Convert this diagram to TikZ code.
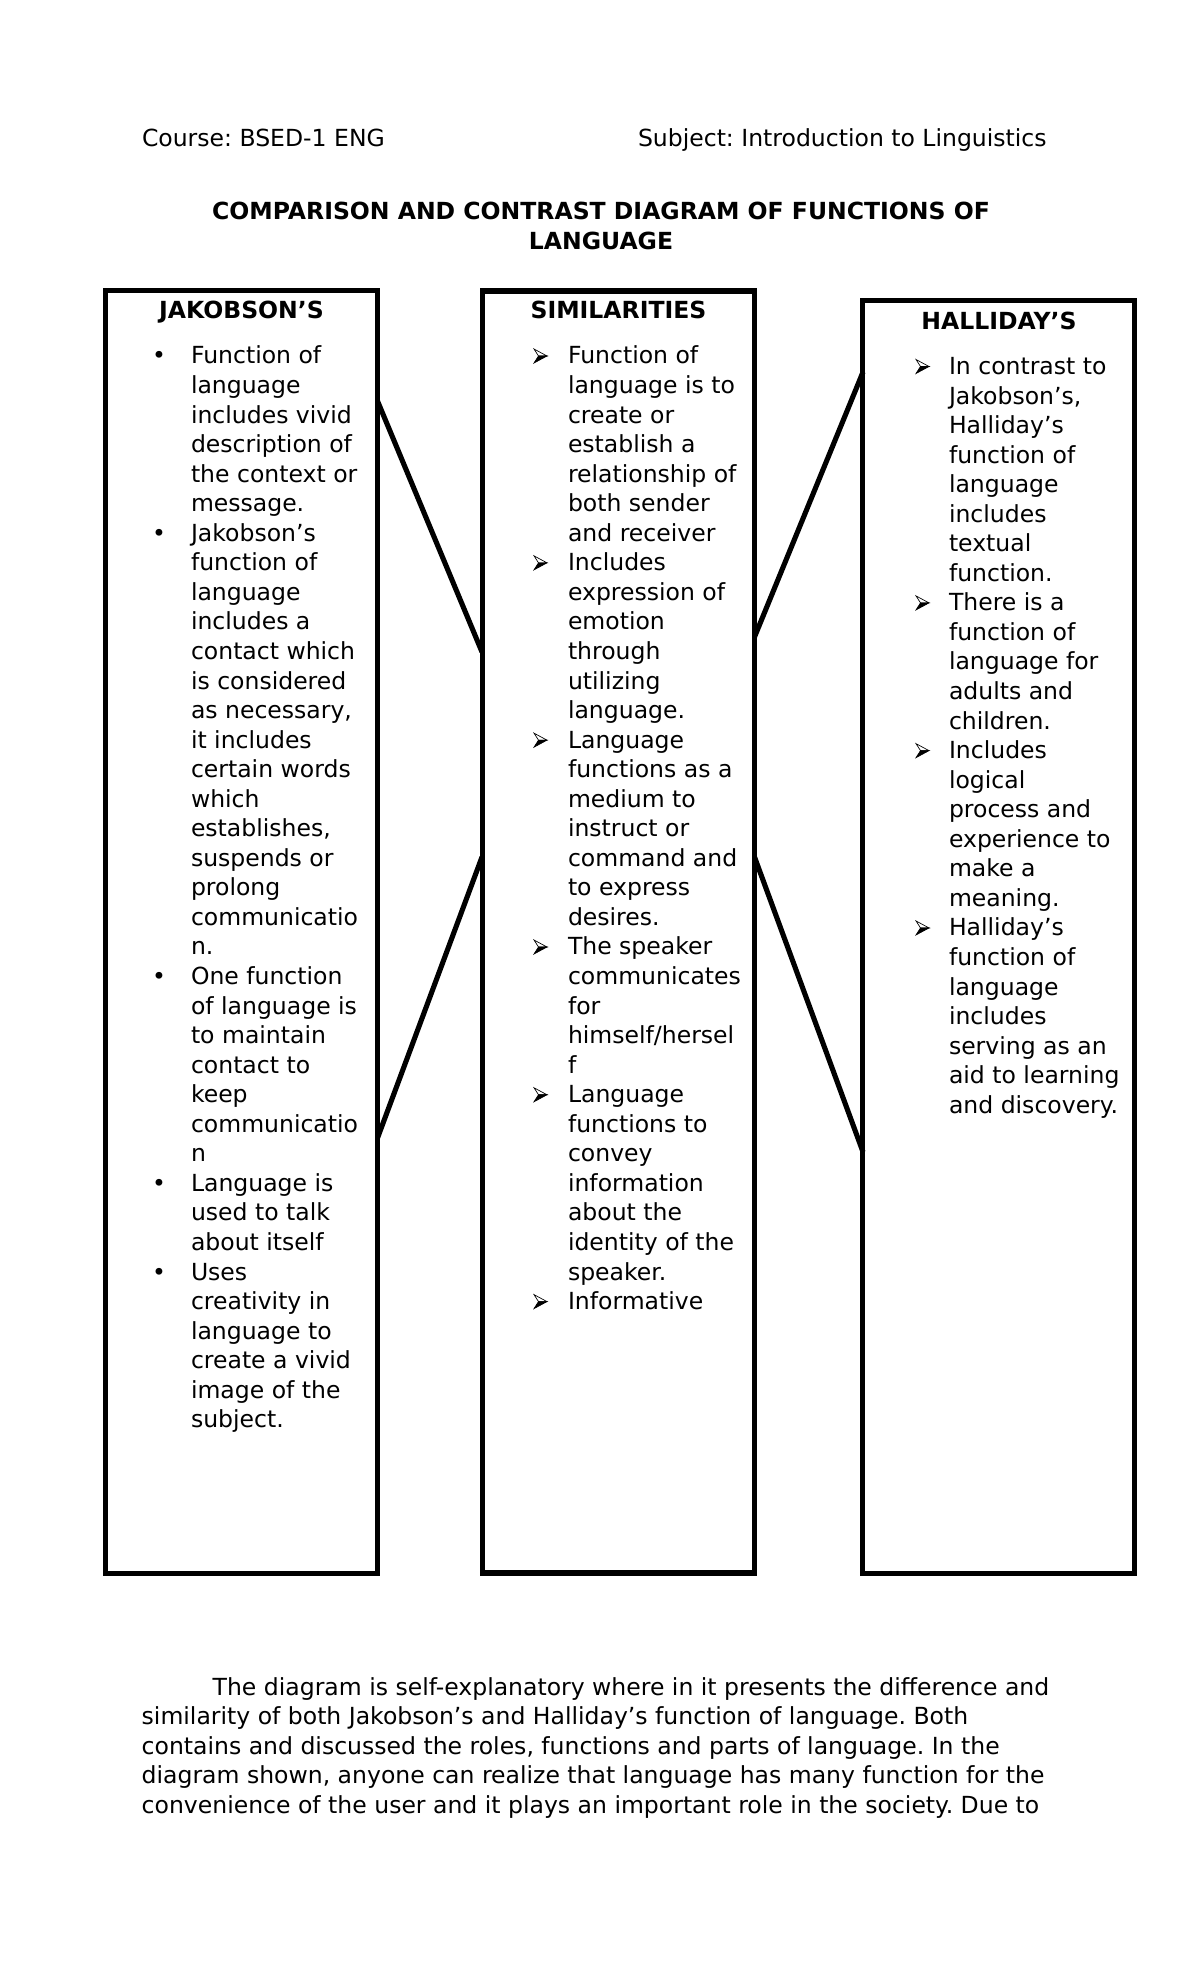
\documentclass[tikz,border=0pt]{standalone}
\usepackage{fontspec}
\setmainfont{DejaVu Sans}
\frenchspacing
\newcommand{\colpar}[1]{\parbox[t]{220pt}{\fontsize{12pt}{15.07pt}\selectfont\frenchspacing\setlength\lineskiplimit{-100pt}\setlength\parindent{0pt}\raggedright #1}}
\newcommand{\parapar}[1]{\parbox[t]{480pt}{\fontsize{12pt}{15.07pt}\selectfont\frenchspacing\setlength\lineskiplimit{-100pt}\setlength\parindent{0pt}\raggedright #1}}
\begin{document}
\begin{tikzpicture}[x=0.51pt,y=-0.51pt,
  every node/.style={inner sep=0pt,outer sep=0pt,font=\fontsize{12pt}{15.07pt}\selectfont},
  colbox/.style={draw,rectangle,line width=2.6pt,line join=miter,minimum width=138.7pt},
  link/.style={line width=2.6pt},
  head/.style={anchor=base,font=\fontsize{12pt}{15.07pt}\selectfont\bfseries},
  txt/.style={anchor=base west},
  bul/.style={anchor=base},
  arrtop/.style={draw=black,fill=white,line width=0.35pt,line join=miter},
  arrbot/.style={draw=black,fill=black,line width=0.35pt,line join=miter}]
\fill[white] (0,0) rectangle (1200,1976);
\useasboundingbox (0,0) rectangle (1200,1976);

% header
\node[txt] (course) at (142,147) {Course: BSED-1 ENG};
\node[txt] (subject) at (638,147) {Subject: Introduction to Linguistics};
\node[head] (title1) at (601,220) {COMPARISON AND CONTRAST DIAGRAM OF FUNCTIONS OF};
\node[head] (title2) at (601,249.5) {LANGUAGE};

% boxes
\node[colbox,minimum height=654.1pt] (jak) at (241.5,931.75) {};
\node[colbox,minimum height=653.8pt] (sim) at (618.25,932) {};
\node[colbox,minimum height=649.0pt] (hal) at (998.75,936.75) {};

% headings
\node[head] (jakh) at (241.5,319) {JAKOBSON’S};
\node[head] (simh) at (618.5,319) {SIMILARITIES};
\node[head] (halh) at (999,329.5) {HALLIDAY’S};

% connector end points
\coordinate (jr1) at (377.5,401);
\coordinate (sl1) at (482,652);
\coordinate (sl2) at (482,857);
\coordinate (jr2) at (377.5,1138);
\coordinate (sr1) at (754.5,637);
\coordinate (hl1) at (863,372);
\coordinate (sr2) at (754.5,857);
\coordinate (hl2) at (863,1152);
\draw[link] (jr1) -- (sl1);
\draw[link] (sl2) -- (jr2);
\draw[link] (sr1) -- (hl1);
\draw[link] (sr2) -- (hl2);

% Jakobson column
\node[txt] (jakt) at (191,364) {\colpar{%
Function of\\
language\\
includes vivid\\
description of\\
the context or\\
message.\\
Jakobson’s\\
function of\\
language\\
includes a\\
contact which\\
is considered\\
as necessary,\\
it includes\\
certain words\\
which\\
establishes,\\
suspends or\\
prolong\\
communicatio\\
n.\\
One function\\
of language is\\
to maintain\\
contact to\\
keep\\
communicatio\\
n\\
Language is\\
used to talk\\
about itself\\
Uses\\
creativity in\\
language to\\
create a vivid\\
image of the\\
subject.}};
\foreach \k [count=\n] in {1,7,22,29,32}
  \node[bul] (jb\n) at (159,{364+(\k-1)*29.55}) {•};

% Similarities column
\node[txt] (simt) at (568,364) {\colpar{%
Function of\\
language is to\\
create or\\
establish a\\
relationship of\\
both sender\\
and receiver\\
Includes\\
expression of\\
emotion\\
through\\
utilizing\\
language.\\
Language\\
functions as a\\
medium to\\
instruct or\\
command and\\
to express\\
desires.\\
The speaker\\
communicates\\
for\\
himself/hersel\\
f\\
Language\\
functions to\\
convey\\
information\\
about the\\
identity of the\\
speaker.\\
Informative}};

% Halliday column
\node[txt] (halt) at (949,374.5) {\colpar{%
In contrast to\\
Jakobson’s,\\
Halliday’s\\
function of\\
language\\
includes\\
textual\\
function.\\
There is a\\
function of\\
language for\\
adults and\\
children.\\
Includes\\
logical\\
process and\\
experience to\\
make a\\
meaning.\\
Halliday’s\\
function of\\
language\\
includes\\
serving as an\\
aid to learning\\
and discovery.}};

% arrowhead bullets: x of back edge / first baseline / line number
\foreach \ax/\yb/\k in {534/364/1, 534/364/8, 534/364/14, 534/364/21, 534/364/26, 534/364/33,
                        916/374.5/1, 916/374.5/9, 916/374.5/14, 916/374.5/20} {
  \pgfmathsetmacro{\ay}{\yb+(\k-1)*29.55}
  \path[arrtop] (\ax,{\ay-15}) -- ({\ax+13},{\ay-8}) -- ({\ax+4.5},{\ay-8}) -- cycle;
  \path[arrbot] ({\ax+4.5},{\ay-8}) -- ({\ax+13},{\ay-8}) -- (\ax,{\ay-1}) -- cycle;
}

% closing paragraph
\node[txt] (para) at (141.7,1695) {\parapar{%
\hspace*{36.2pt}The diagram is self-explanatory where in it presents the difference and\\
similarity of both Jakobson’s and Halliday’s function of language. Both\\
contains and discussed the roles, functions and parts of language. In the\\
diagram shown, anyone can realize that language has many function for the\\
convenience of the user and it plays an important role in the society. Due to}};
\end{tikzpicture}
\end{document}
